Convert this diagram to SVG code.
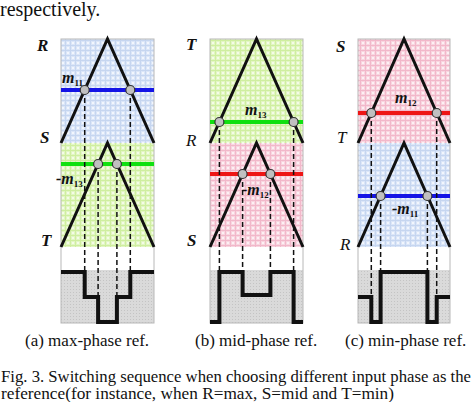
<svg xmlns="http://www.w3.org/2000/svg" width="474" height="402" viewBox="0 0 474 402">
<defs>
<pattern id="pBlue" width="5" height="5" patternUnits="userSpaceOnUse">
<rect width="5" height="5" fill="#dbe6f8"/>
<rect x="0" y="0" width="5" height="1" fill="#c6d6f0"/>
<rect x="0" y="0" width="1" height="5" fill="#c6d6f0"/>
<rect x="2" y="2" width="2" height="2" fill="#f2f6fd"/>
</pattern>
<pattern id="pGreen" width="5" height="5" patternUnits="userSpaceOnUse">
<rect width="5" height="5" fill="#e2f6c4"/>
<rect x="0" y="0" width="5" height="1" fill="#cfeea0"/>
<rect x="0" y="0" width="1" height="5" fill="#cfeea0"/>
<rect x="2" y="2" width="2" height="2" fill="#f4fce6"/>
</pattern>
<pattern id="pPink" width="5" height="5" patternUnits="userSpaceOnUse">
<rect width="5" height="5" fill="#f8d6e0"/>
<rect x="0" y="0" width="5" height="1" fill="#f2b8ca"/>
<rect x="0" y="0" width="1" height="5" fill="#f2b8ca"/>
<rect x="2" y="2" width="2" height="2" fill="#fdf0f4"/>
</pattern>
<pattern id="pGray" width="3" height="3" patternUnits="userSpaceOnUse">
<rect width="3" height="3" fill="#dadada"/>
<rect x="1" y="1" width="1" height="1" fill="#c4c4c4"/>
</pattern>
</defs>
<style>
.txt{font-family:"Liberation Serif","Times New Roman",serif;fill:#111}
.lbl{font-family:"Liberation Serif","Times New Roman",serif;font-style:italic;font-size:17px;fill:#111}
.b{font-weight:bold}
.m{font-family:"Liberation Serif","Times New Roman",serif;font-style:italic;font-weight:bold;font-size:16px;fill:#111}
.sub{font-size:9px;font-style:normal}
.frame{fill:none;stroke:#b8b8b8;stroke-width:1}
.tri{fill:none;stroke:#111;stroke-width:3;stroke-linejoin:miter}
.pulse{fill:none;stroke:#111;stroke-width:4;stroke-linejoin:miter}
.dash{stroke:#111;stroke-width:1.5;stroke-dasharray:5,3;fill:none}
.pt{fill:#c0c0c0;stroke:#333;stroke-width:1.2}
</style>

<text class="txt" x="0" y="16" font-size="20">respectively.</text>

<g id="panel-a">
<rect x="61" y="39" width="93" height="104" fill="url(#pBlue)"/>
<rect x="61" y="143" width="93" height="104" fill="url(#pGreen)"/>
<rect x="61" y="247" width="93" height="23" fill="#ffffff"/>
<rect x="61" y="270" width="93" height="53" fill="url(#pGray)"/>
<rect class="frame" x="61" y="39" width="93" height="284"/>
<polyline class="tri" points="61,143 107.5,39 154,143"/>
<polyline class="tri" points="61,247 107.5,143 154,247"/>
<line x1="61" y1="90" x2="154" y2="90" stroke="#1414e6" stroke-width="4"/>
<line x1="61" y1="164" x2="154" y2="164" stroke="#10e010" stroke-width="4"/>
<text class="lbl b" x="37" y="51">R</text>
<text class="lbl b" x="40" y="143">S</text>
<text class="lbl b" x="41" y="246">T</text>
<text class="m" x="62" y="83">m<tspan class="sub" dy="3">11</tspan></text>
<text class="m" x="56" y="184">-m<tspan class="sub" dy="3">13</tspan></text>
</g>

<g id="panel-b">
<rect x="210" y="39" width="93" height="104" fill="url(#pGreen)"/>
<rect x="210" y="143" width="93" height="104" fill="url(#pPink)"/>
<rect x="210" y="247" width="93" height="23" fill="#ffffff"/>
<rect x="210" y="270" width="93" height="53" fill="url(#pGray)"/>
<rect class="frame" x="210" y="39" width="93" height="284"/>
<polyline class="tri" points="210,143 256.5,39 303,143"/>
<polyline class="tri" points="210,247 256.5,143 303,247"/>
<line x1="210" y1="122" x2="303" y2="122" stroke="#10e010" stroke-width="4"/>
<line x1="210" y1="174" x2="303" y2="174" stroke="#ee1515" stroke-width="4"/>
<text class="lbl b" x="186" y="50">T</text>
<text class="lbl" x="186" y="146">R</text>
<text class="lbl b" x="187" y="246">S</text>
<text class="m" x="245" y="115">m<tspan class="sub" dy="3">13</tspan></text>
<text class="m" x="242" y="195">-m<tspan class="sub" dy="3">12</tspan></text>
</g>

<g id="panel-c">
<rect x="358" y="39" width="92" height="104" fill="url(#pPink)"/>
<rect x="358" y="143" width="92" height="104" fill="url(#pBlue)"/>
<rect x="358" y="247" width="92" height="23" fill="#ffffff"/>
<rect x="358" y="270" width="92" height="53" fill="url(#pGray)"/>
<rect class="frame" x="358" y="39" width="92" height="284"/>
<polyline class="tri" points="358,143 404,39 450,143"/>
<polyline class="tri" points="358,247 404,143 450,247"/>
<line x1="358" y1="113" x2="450" y2="113" stroke="#ee1515" stroke-width="4"/>
<line x1="358" y1="196" x2="450" y2="196" stroke="#1414e6" stroke-width="4"/>
<text class="lbl b" x="336" y="52">S</text>
<text class="lbl" x="337" y="143">T</text>
<text class="lbl" x="340" y="250">R</text>
<text class="m" x="395" y="103">m<tspan class="sub" dy="3">12</tspan></text>
<text class="m" x="392" y="214">-m<tspan class="sub" dy="3">11</tspan></text>
</g>

<g id="connectors">
<line class="dash" x1="84.7" y1="90" x2="84.7" y2="272"/>
<line class="dash" x1="130.3" y1="90" x2="130.3" y2="272"/>
<line class="dash" x1="98.1" y1="164" x2="98.1" y2="297"/>
<line class="dash" x1="116.9" y1="164" x2="116.9" y2="297"/>
<line class="dash" x1="219.4" y1="122" x2="219.4" y2="272"/>
<line class="dash" x1="293.6" y1="122" x2="293.6" y2="272"/>
<line class="dash" x1="242.6" y1="174" x2="242.6" y2="295"/>
<line class="dash" x1="270.4" y1="174" x2="270.4" y2="295"/>
<line class="dash" x1="371.3" y1="113" x2="371.3" y2="297"/>
<line class="dash" x1="436.7" y1="113" x2="436.7" y2="297"/>
<line class="dash" x1="380.6" y1="196" x2="380.6" y2="272"/>
<line class="dash" x1="427.4" y1="196" x2="427.4" y2="272"/>
<path class="pulse" d="M61,272 H84.7 V297 H98.1 V322 H116.9 V297 H130.3 V272 H154"/>
<path class="pulse" d="M210,322 H219.4 V272 H242.6 V295 H270.4 V272 H293.6 V322 H303"/>
<path class="pulse" d="M358,297 H371.3 V322 H380.6 V272 H427.4 V322 H436.7 V297 H450"/>
<circle class="pt" cx="84.7" cy="90" r="4.5"/>
<circle class="pt" cx="130.3" cy="90" r="4.5"/>
<circle class="pt" cx="98.1" cy="164" r="4.5"/>
<circle class="pt" cx="116.9" cy="164" r="4.5"/>
<circle class="pt" cx="219.4" cy="122" r="4.5"/>
<circle class="pt" cx="293.6" cy="122" r="4.5"/>
<circle class="pt" cx="242.6" cy="174" r="4.5"/>
<circle class="pt" cx="270.4" cy="174" r="4.5"/>
<circle class="pt" cx="371.3" cy="113" r="4.5"/>
<circle class="pt" cx="436.7" cy="113" r="4.5"/>
<circle class="pt" cx="380.6" cy="196" r="4.5"/>
<circle class="pt" cx="427.4" cy="196" r="4.5"/>
</g>

<text class="txt" x="25" y="346" font-size="17">(a) max-phase ref.</text>
<text class="txt" x="195" y="346" font-size="17">(b) mid-phase ref.</text>
<text class="txt" x="345" y="346" font-size="17">(c) min-phase ref.</text>
<text class="txt" x="1" y="382" font-size="17" textLength="470" lengthAdjust="spacingAndGlyphs">Fig. 3. Switching sequence when choosing different input phase as the</text>
<text class="txt" x="1" y="399" font-size="17" textLength="393" lengthAdjust="spacingAndGlyphs">reference(for instance, when R=max, S=mid and T=min)</text>
</svg>
